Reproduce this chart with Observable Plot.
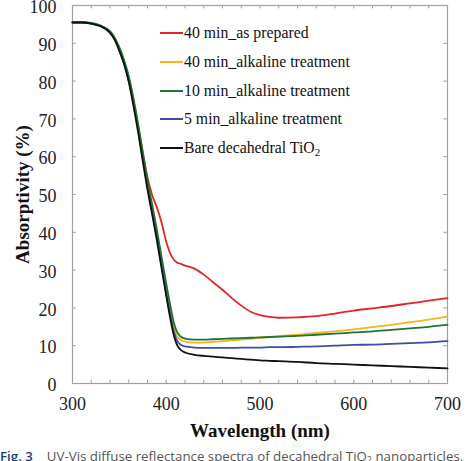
<!DOCTYPE html>
<html>
<head>
<meta charset="utf-8">
<script src="https://cdn.jsdelivr.net/npm/d3@7"></script>
<script src="https://cdn.jsdelivr.net/npm/@observablehq/plot@0.6"></script>
<style>
  html, body { margin: 0; padding: 0; background: #fff; overflow: hidden; }
  #wrap { position: relative; width: 474px; height: 461px; overflow: hidden; }
  #chart svg { display: block; font-family: "Liberation Serif", "DejaVu Serif", serif; }
  .legend { position: absolute; left: 160px; top: 0; font-family: "Liberation Serif", serif; font-size: 15.8px; color: #111; }
  .legend .row { position: absolute; left: 0; height: 18px; display: flex; align-items: center; white-space: nowrap; }
  .legend .sw { width: 23px; height: 2px; margin-right: 1px; }
  .legend sub { font-size: 11px; vertical-align: -3px; line-height: 0; }
  .caption { position: absolute; left: 0; top: 447px; width: 520px; font-family: "Open Sans", "Noto Sans", sans-serif; font-size: 13.3px; color: #555; white-space: nowrap; }
  .caption b { color: #1d3d6e; font-weight: 600; margin-right: 14px; }
  .caption sub { font-size: 9px; vertical-align: -2px; line-height: 0; }
</style>
</head>
<body>
<div id="wrap">
  <div id="chart"></div>
  <div class="legend" id="legend"></div>
  <div class="caption"><b>Fig. 3</b>UV-Vis diffuse reflectance spectra of decahedral TiO<sub>2</sub> nanoparticles.</div>
</div>
<script>
// Wavelength grid (nm) shared by every spectrum
const wavelength = [300,310,320,330,340,345,350,355,360,365,370,375,380,385,390,395,400,405,408,411,415,420,430,440,450,460,470,480,490,500,510,520,540,560,580,600,620,640,660,680,700];

// Absorptivity (%) for each sample
const asPrepared40 = [95.5,95.5,95.3,94.6,93.0,91.3,88.6,85.2,80.8,74.9,68.0,61.0,54.5,49.8,46.6,42.6,37.5,34.0,32.8,32.1,31.7,31.2,30.4,28.8,26.8,24.8,22.6,20.6,19.0,18.1,17.6,17.4,17.5,17.8,18.5,19.3,19.9,20.5,21.2,21.9,22.6];
const alkaline40 = [95.5,95.5,95.3,94.6,93.0,91.3,88.6,85.2,80.8,74.9,68.0,60.5,53.0,46.5,39.8,32.5,25.3,18.6,15.0,12.8,11.6,11.1,10.8,10.8,11.0,11.2,11.4,11.6,11.8,12.1,12.3,12.5,12.9,13.4,13.8,14.3,14.9,15.5,16.2,16.9,17.7];
const alkaline10 = [95.6,95.6,95.4,94.7,93.2,91.5,88.9,85.6,81.3,75.5,68.7,61.2,53.8,47.3,40.7,33.5,26.4,19.8,16.2,13.9,12.5,11.9,11.6,11.6,11.7,11.8,11.9,12.0,12.1,12.2,12.3,12.4,12.6,12.9,13.2,13.5,13.8,14.2,14.6,15.0,15.5];
const alkaline5 = [95.5,95.5,95.2,94.5,92.8,91.0,88.2,84.7,80.1,74.1,67.2,59.6,52.0,45.5,38.7,31.3,24.0,17.2,13.8,11.6,10.3,9.8,9.5,9.4,9.4,9.4,9.4,9.5,9.5,9.5,9.6,9.6,9.7,9.8,10.0,10.2,10.3,10.5,10.7,10.9,11.2];
const bare = [95.5,95.5,95.2,94.5,92.8,90.9,88.0,84.5,79.8,73.5,66.5,58.8,51.3,44.7,37.9,30.5,23.2,16.3,12.8,10.5,9.0,8.2,7.6,7.3,7.1,6.9,6.7,6.5,6.3,6.1,6.0,5.9,5.7,5.4,5.2,5.0,4.8,4.6,4.4,4.2,4.0];

const seriesNames = ["40 min_as prepared", "40 min_alkaline treatment", "10 min_alkaline treatment", "5 min_alkaline treatment", "Bare decahedral TiO2"];
const seriesValues = [asPrepared40, alkaline40, alkaline10, alkaline5, bare];
const seriesColors = ["#e4232b", "#f5b51c", "#1f7433", "#3b4ea6", "#111111"];
// drawing order: later entries on top
const drawOrder = [0, 1, 3, 2, 4];

const xTicks = [300, 400, 500, 600, 700];
const xMinorTicks = d3.range(300, 701, 20);
const yTicks = [0, 10, 20, 30, 40, 50, 60, 70, 80, 90, 100];

const rows = seriesNames.flatMap((name, i) =>
  wavelength.map((w, j) => ({series: name, x: w, y: seriesValues[i][j]}))
);

const lineMarks = drawOrder.map(i =>
  Plot.line(rows.filter(d => d.series === seriesNames[i]), {
    x: "x", y: "y", stroke: seriesColors[i], strokeWidth: 1.8, curve: "monotone-x"
  })
);

const frameColor = "#a0a0a0";

const chart = Plot.plot({
  width: 474,
  height: 441,
  marginLeft: 72,
  marginRight: 27,
  marginTop: 5,
  marginBottom: 58,
  x: {domain: [300, 700]},
  y: {domain: [0, 100]},
  marks: [
    // inward tick marks on all four sides
    Plot.ruleX(xMinorTicks, {y1: 0, y2: 0.9, stroke: frameColor}),
    Plot.ruleX(xMinorTicks, {y1: 100, y2: 99.1, stroke: frameColor}),
    Plot.ruleY(yTicks, {x1: 300, x2: 304, stroke: frameColor}),
    Plot.ruleY(yTicks, {x1: 700, x2: 696, stroke: frameColor}),
    Plot.frame({stroke: frameColor, strokeWidth: 1.2}),
    Plot.axisX(xTicks, {tickSize: 0, tickPadding: 14, fontSize: 18, fill: "#222", label: null}),
    Plot.axisY(yTicks, {tickSize: 0, tickPadding: 16, dy: 2, fontSize: 18, fill: "#222", label: null}),
    ...lineMarks,
    Plot.text(["Wavelength (nm)"], {frameAnchor: "bottom", dy: 47, fontSize: 19, fontWeight: "bold", fill: "#111", lineAnchor: "middle", textAnchor: "middle"}),
    Plot.text(["Absorptivity (%)"], {frameAnchor: "left", dx: -50, rotate: -90, fontSize: 19, fontWeight: "bold", fill: "#111", textAnchor: "middle", lineAnchor: "middle"})
  ]
});
document.getElementById("chart").appendChild(chart);

// Legend inside the plotting area
const legend = document.getElementById("legend");
const rowCenters = [33, 62, 91, 119, 148];
seriesNames.forEach((name, i) => {
  const row = document.createElement("div");
  row.className = "row";
  row.style.top = (rowCenters[i] - 9) + "px";
  const sw = document.createElement("span");
  sw.className = "sw";
  sw.style.background = seriesColors[i];
  const label = document.createElement("span");
  if (name.endsWith("TiO2")) {
    label.innerHTML = name.slice(0, -1) + "<sub>2</sub>";
  } else {
    label.textContent = name;
  }
  row.appendChild(sw);
  row.appendChild(label);
  legend.appendChild(row);
});
</script>
</body>
</html>
